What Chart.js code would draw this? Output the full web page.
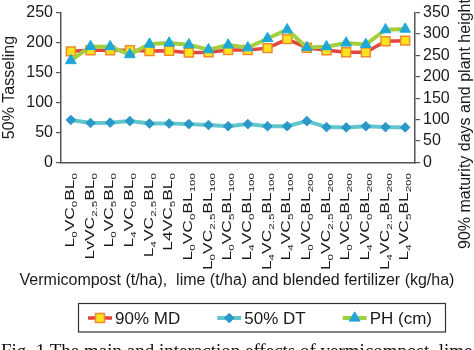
<!DOCTYPE html>
<html><head><meta charset="utf-8">
<script src="https://cdn.jsdelivr.net/npm/chart.js@4.4.1/dist/chart.umd.min.js"></script>
<style>
html,body{margin:0;padding:0;background:#fff;overflow:hidden;width:474px;height:350px;}
#wrap{position:relative;width:474px;height:350px;overflow:hidden;}
#caption{position:absolute;left:1px;top:340.5px;font:19px/1 'Liberation Serif','Times New Roman',serif;color:#111;white-space:nowrap;}
</style></head><body>
<div id="wrap"><canvas id="c" width="474" height="350"></canvas><div id="caption">Fig. 1 The main and interaction effects of vermicompost, lime</div></div>
<script>
// categories: "_x" marks a subscript
const categories = ["L_0VC_0BL_0","LvVC_2.5BL_0","L_0VC_5BL_0","L_4VC_0BL_0","L_4VC_2.5BL_0","L4VC_5BL_0",
  "L_0VC_0BL_100","L_0VC_2.5BL_100","L_0VC_5BL_100","L_4VC_0BL_100","L_4VC_2.5BL_100","L_4VC_5BL_100",
  "L_0VC_0BL_200","L_0VC_2.5BL_200","L_0VC_5BL_200","L_4VC_0BL_200","L_4VC_2.5BL_200","L_4VC_5BL_200"];
const md90 = [259.5, 262, 262, 262, 260.5, 261, 256.5, 257.5, 262.5, 262.5, 267, 288, 268, 262, 257.5, 257.5, 283, 284.5];
const dt50 = [71, 66, 66.5, 69, 65, 65, 64, 62.5, 60.5, 64, 60.5, 60.5, 69, 59, 58.5, 60.5, 59, 58.5];
const ph = [238, 271, 270.5, 252, 276.5, 279, 275, 263.5, 274.5, 268, 289.5, 310, 268.5, 270.5, 279, 275.5, 310, 311.5];
const leftTicks = [0, 50, 100, 150, 200, 250];
const rightTicks = [0, 50, 100, 150, 200, 250, 300, 350];
const seriesNames = ["90% MD", "50% DT", "PH (cm)"];
const xTitle = "Vermicompost (t/ha),  lime (t/ha) and blended fertilizer (kg/ha)";
const leftTitle = "50% Tasseling";
const rightTitle = "90% maturity days and plant height";

const FAM = "'Liberation Sans', Arial, Helvetica, sans-serif";
const TXT = '#1a1a1a';
Chart.defaults.font.family = FAM;
Chart.defaults.color = TXT;

const styles = [
  {line:'#e2453c', fill:'#fbe31f', border:'#ee8b2c', shape:'rect', r:6.3, lw:3.5, bw:1.5},
  {line:'#62c6cf', fill:'#2a98c8', border:'#2a98c8', shape:'rectRot', r:4.8, lw:4, bw:1},
  {line:'#a3cf3e', fill:'#1ea7d8', border:'#1ea7d8', shape:'triangle', r:6.2, lw:4, bw:1}
];

function drawMarker(ctx, st, x, y) {
  ctx.save();
  ctx.fillStyle = st.fill; ctx.strokeStyle = st.border; ctx.lineWidth = st.bw;
  ctx.beginPath();
  if (st.shape === 'rect') {
    const s = Math.SQRT1_2 * st.r;
    ctx.rect(x - s, y - s, 2 * s, 2 * s);
  } else if (st.shape === 'rectRot') {
    ctx.moveTo(x, y - st.r); ctx.lineTo(x + st.r, y); ctx.lineTo(x, y + st.r); ctx.lineTo(x - st.r, y); ctx.closePath();
  } else {
    const r = st.r;
    ctx.moveTo(x, y - r); ctx.lineTo(x + r * Math.sin(2 * Math.PI / 3), y + r / 2); ctx.lineTo(x - r * Math.sin(2 * Math.PI / 3), y + r / 2); ctx.closePath();
  }
  ctx.fill(); ctx.stroke();
  ctx.restore();
}

const MAIN = "12px " + FAM;
const SUB = "8px " + FAM;

const overlay = {
  id: 'overlay',
  afterDraw(chart) {
    const ctx = chart.ctx;
    const xs = chart.scales.x;
    // category labels with subscripts
    ctx.save();
    ctx.fillStyle = TXT;
    ctx.textBaseline = 'alphabetic';
    ctx.textAlign = 'left';
    categories.forEach((c, i) => {
      const parts = c.split(/(_[0-9.]+)/).filter(p => p.length);
      const px = xs.getPixelForTick(i);
      ctx.save();
      ctx.translate(px + 3, xs.top + 10.5);
      ctx.rotate(-Math.PI / 2);
      ctx.scale(1.45, 1);
      let total = 0;
      parts.forEach(p => { const sub = p[0] === '_'; ctx.font = sub ? SUB : MAIN; total += ctx.measureText(sub ? p.slice(1) : p).width; });
      let cx = -total;
      parts.forEach(p => {
        const sub = p[0] === '_'; const t = sub ? p.slice(1) : p;
        ctx.font = sub ? SUB : MAIN;
        ctx.fillText(t, cx, sub ? 3 : 0);
        cx += ctx.measureText(t).width;
      });
      ctx.restore();
    });
    ctx.restore();
    // x axis title (full width, not squeezed)
    ctx.save();
    ctx.fillStyle = TXT;
    ctx.font = "16px " + FAM;
    ctx.textAlign = 'center'; ctx.textBaseline = 'middle';
    ctx.fillText(xTitle, 237, 280.5);
    ctx.restore();
    // right axis title (reads bottom to top)
    ctx.save();
    ctx.fillStyle = TXT;
    ctx.font = "16px " + FAM;
    ctx.textAlign = 'left'; ctx.textBaseline = 'middle';
    ctx.translate(466, 249);
    ctx.rotate(-Math.PI / 2);
    ctx.fillText(rightTitle, 0, 0);
    ctx.restore();
    // legend
    ctx.save();
    ctx.font = "17px " + FAM;
    const symW = 24, gapST = 3;
    const widths = seriesNames.map(t => ctx.measureText(t).width);
    const content = widths.reduce((a, w) => a + symW + gapST + w, 0);
    const x0 = 88, x1 = 432;
    const gap = (x1 - x0 - content) / 2;
    const cy = 318;
    let x = x0;
    seriesNames.forEach((t, i) => {
      const st = styles[i];
      ctx.strokeStyle = st.line; ctx.lineWidth = st.lw;
      ctx.beginPath(); ctx.moveTo(x, cy); ctx.lineTo(x + symW, cy); ctx.stroke();
      drawMarker(ctx, st, x + symW / 2, cy);
      ctx.fillStyle = TXT; ctx.textBaseline = 'middle'; ctx.textAlign = 'left';
      ctx.fillText(t, x + symW + gapST, cy + 1);
      x += symW + gapST + widths[i] + gap;
    });
    ctx.strokeStyle = '#333'; ctx.lineWidth = 1.2;
    ctx.strokeRect(78.5, 303.5, 367, 28.5);
    ctx.restore();
  }
};

function ds(label, data, i, axis, order) {
  const st = styles[i];
  return {
    label, data, yAxisID: axis, order,
    borderColor: st.line, borderWidth: st.lw, tension: 0, fill: false,
    pointStyle: st.shape, pointRadius: st.r, pointHoverRadius: st.r,
    pointBackgroundColor: st.fill, pointBorderColor: st.border, pointBorderWidth: st.bw
  };
}

new Chart(document.getElementById('c'), {
  type: 'line',
  data: {
    labels: categories.map(c => c.replace(/_/g, '')),
    datasets: [
      ds(seriesNames[0], md90, 0, 'y1', 1),
      ds(seriesNames[1], dt50, 1, 'y', 2),
      ds(seriesNames[2], ph, 2, 'y1', 0)
    ]
  },
  options: {
    responsive: false, animation: false, devicePixelRatio: 1,
    layout: { padding: { top: 12, bottom: 12.5, left: 0, right: 0 } },
    plugins: { legend: { display: false }, tooltip: { enabled: false } },
    scales: {
      x: {
        type: 'category', offset: true,
        grid: { display: false },
        border: { display: true, color: '#555', width: 1.5 },
        ticks: { display: false },
        afterFit: s => { s.height = 175; },
        title: { display: false }
      },
      y: {
        position: 'left', min: 0, max: 250,
        afterBuildTicks: s => { s.ticks = leftTicks.map(v => ({ value: v })); },
        afterFit: s => { s.width = 61; },
        grid: { display: true, drawOnChartArea: false, drawTicks: true, tickLength: 5, color: '#555', lineWidth: 1.2 },
        border: { display: true, color: '#555', width: 1.5 },
        ticks: { font: { size: 16 }, color: TXT, padding: 3, autoSkip: false },
        title: { display: true, text: leftTitle, font: { size: 16 }, color: TXT, padding: { top: 0, bottom: 0 } }
      },
      y1: {
        position: 'right', min: 0, max: 350,
        afterBuildTicks: s => { s.ticks = rightTicks.map(v => ({ value: v })); },
        afterFit: s => { s.width = 59; },
        grid: { display: true, drawOnChartArea: false, drawTicks: true, tickLength: 5, color: '#555', lineWidth: 1.2 },
        border: { display: true, color: '#555', width: 1.5 },
        ticks: { font: { size: 16 }, color: TXT, padding: 3, autoSkip: false }
      }
    }
  },
  plugins: [overlay]
});
</script>
</body></html>
